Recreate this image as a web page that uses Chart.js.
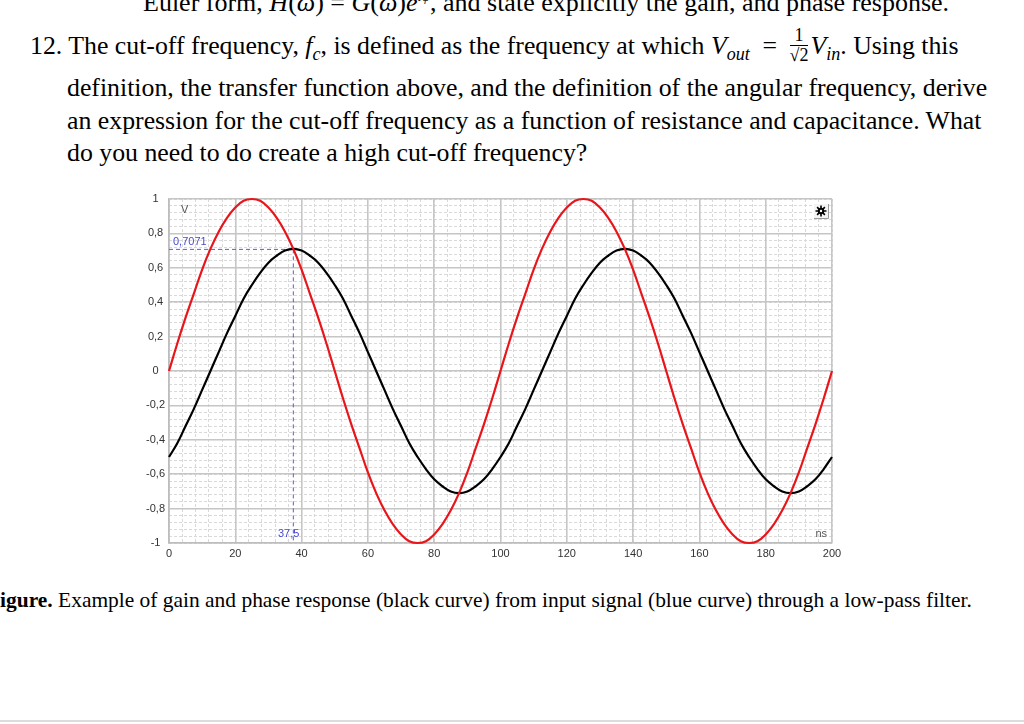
<!DOCTYPE html>
<html>
<head>
<meta charset="utf-8">
<script src="https://cdn.jsdelivr.net/npm/chart.js@4/dist/chart.umd.min.js"></script>
<style>
  body {
    margin: 0;
    width: 1024px;
    height: 724px;
    overflow: hidden;
    background: #fff;
    position: relative;
    font-family: "Liberation Serif", "Times New Roman", serif;
    color: #000;
  }
  .line {
    position: absolute;
    white-space: nowrap;
    font-size: 25.8px;
    line-height: 25.8px;
  }
  .m { font-style: italic; }
  .sub { font-size: 18px; font-style: italic; position: relative; top: 5px; }
  .frac {
    display: inline-block;
    vertical-align: middle;
    text-align: center;
    font-size: 18px;
    line-height: 19px;
    margin: 0 2px 0 6px;
    position: relative;
    top: -3px;
  }
  .frac span { display: block; }
  .frac .num { border-bottom: 1px solid #000; padding: 0 1px; }
  .caption {
    position: absolute;
    white-space: nowrap;
    font-size: 21.45px;
    line-height: 21.45px;
  }
  #wrap {
    position: absolute;
    left: 120px;
    top: 185px;
    width: 730px;
    height: 390px;
  }
  .rule {
    position: absolute;
    left: 0;
    top: 720px;
    width: 1024px;
    height: 2px;
    background: #dcdcdc;
  }
</style>
</head>
<body>

<div class="line" style="left:143px; top:-17px; font-size:26px; line-height:26px;">Euler form, <span class="m">H</span>(<span class="m">ω</span>) = <span class="m">G</span>(<span class="m">ω</span>)<span class="m">e</span><sup class="m" style="font-size:15px">iφ</sup>, and state explicitly the gain, and phase response.</div>

<div class="line" style="left:30px; top:29.4px;">12. The cut-off frequency, <span class="m">f</span><span class="sub">c</span>, is defined as the frequency at which <span class="m">V</span><span class="sub">out</span> &nbsp;= <span class="frac"><span class="num">1</span><span>√2</span></span><span class="m">V</span><span class="sub">in</span>. Using this</div>

<div class="line" style="left:67px; top:75.4px;">definition, the transfer function above, and the definition of the angular frequency, derive</div>

<div class="line" style="left:67px; top:108.4px;">an expression for the cut-off frequency as a function of resistance and capacitance. What</div>

<div class="line" style="left:67px; top:140.4px;">do you need to do create a high cut-off frequency?</div>

<div id="wrap"><canvas id="wave-chart"></canvas></div>

<div class="caption" style="left:-13px; top:589.6px;"><b>Figure.</b> Example of gain and phase response (black curve) from input signal (blue curve) through a low-pass filter.</div>

<div class="rule"></div>

<script>
// time axis, ns
const timeNs = [
  0, 2.5, 5, 7.5, 10, 12.5, 15, 17.5, 20, 22.5,
  25, 27.5, 30, 32.5, 35, 37.5, 40, 42.5, 45, 47.5,
  50, 52.5, 55, 57.5, 60, 62.5, 65, 67.5, 70, 72.5,
  75, 77.5, 80, 82.5, 85, 87.5, 90, 92.5, 95, 97.5,
  100, 102.5, 105, 107.5, 110, 112.5, 115, 117.5, 120, 122.5,
  125, 127.5, 130, 132.5, 135, 137.5, 140, 142.5, 145, 147.5,
  150, 152.5, 155, 157.5, 160, 162.5, 165, 167.5, 170, 172.5,
  175, 177.5, 180, 182.5, 185, 187.5, 190, 192.5, 195, 197.5,
  200
];

// input signal (red), volts
const inputV = [
  0, 0.16, 0.31, 0.45, 0.59, 0.71, 0.81, 0.89, 0.95, 0.99,
  1, 0.99, 0.95, 0.89, 0.81, 0.71, 0.59, 0.45, 0.31, 0.16,
  0, -0.16, -0.31, -0.45, -0.59, -0.71, -0.81, -0.89, -0.95, -0.99,
  -1, -0.99, -0.95, -0.89, -0.81, -0.71, -0.59, -0.45, -0.31, -0.16,
  0, 0.16, 0.31, 0.45, 0.59, 0.71, 0.81, 0.89, 0.95, 0.99,
  1, 0.99, 0.95, 0.89, 0.81, 0.71, 0.59, 0.45, 0.31, 0.16,
  0, -0.16, -0.31, -0.45, -0.59, -0.71, -0.81, -0.89, -0.95, -0.99,
  -1, -0.99, -0.95, -0.89, -0.81, -0.71, -0.59, -0.45, -0.31, -0.16,
  0
];

// filtered output (black), volts
const outputV = [
  -0.5, -0.42, -0.32, -0.22, -0.11, 0, 0.11, 0.22, 0.32, 0.42,
  0.5, 0.57, 0.63, 0.67, 0.7, 0.71, 0.7, 0.67, 0.63, 0.57,
  0.5, 0.42, 0.32, 0.22, 0.11, 0, -0.11, -0.22, -0.32, -0.42,
  -0.5, -0.57, -0.63, -0.67, -0.7, -0.71, -0.7, -0.67, -0.63, -0.57,
  -0.5, -0.42, -0.32, -0.22, -0.11, 0, 0.11, 0.22, 0.32, 0.42,
  0.5, 0.57, 0.63, 0.67, 0.7, 0.71, 0.7, 0.67, 0.63, 0.57,
  0.5, 0.42, 0.32, 0.22, 0.11, 0, -0.11, -0.22, -0.32, -0.42,
  -0.5, -0.57, -0.63, -0.67, -0.7, -0.71, -0.7, -0.67, -0.63, -0.57,
  -0.5
];

// cursor readout
const cursorT = 37.5;
const cursorV = 0.7071;
const cursorLabels = ['0,7071', '37,5'];

const xTicks = [0, 20, 40, 60, 80, 100, 120, 140, 160, 180, 200];
const yTicks = [-1, -0.8, -0.6, -0.4, -0.2, 0, 0.2, 0.4, 0.6, 0.8, 1];

const unitLabels = ['V', 'ns'];

const toComma = v =>
  String(Number(v.toFixed(4))).replace('.', ',');

const pointsOf = values =>
  values.map((v, i) => ({ x: timeNs[i], y: v }));

const tickFont = {
  family: '"Liberation Sans", Arial, sans-serif',
  size: 11,
};

// labels, unit names and the little settings button
const overlayPlugin = {
  id: 'overlay',
  afterDraw(chart) {
    const ctx = chart.ctx;
    const x = chart.scales.x;
    const y = chart.scales.y;
    const area = chart.chartArea;

    ctx.save();
    ctx.font = '11px "Liberation Sans", Arial, sans-serif';

    // cursor values
    ctx.fillStyle = '#4a4ad0';
    ctx.textAlign = 'left';
    ctx.textBaseline = 'bottom';
    ctx.fillText(
      cursorLabels[0],
      area.left + 4,
      y.getPixelForValue(cursorV) - 2
    );
    ctx.textAlign = 'right';
    ctx.textBaseline = 'bottom';
    ctx.fillText(
      cursorLabels[1],
      x.getPixelForValue(cursorT) + 6,
      area.bottom - 4
    );

    // units
    ctx.fillStyle = '#555';
    ctx.textAlign = 'left';
    ctx.textBaseline = 'top';
    ctx.fillText(unitLabels[0], area.left + 12, area.top + 5);
    ctx.textAlign = 'right';
    ctx.textBaseline = 'bottom';
    ctx.fillText(unitLabels[1], area.right - 5, area.bottom - 4);

    // settings button
    const bx = area.right - 18;
    const by = area.top + 5;
    ctx.fillStyle = '#f4f4f4';
    ctx.fillRect(bx, by, 14, 14);
    ctx.strokeStyle = '#9a9a9a';
    ctx.lineWidth = 1;
    ctx.beginPath();
    ctx.moveTo(bx + 14.5, by);
    ctx.lineTo(bx + 14.5, by + 14.5);
    ctx.lineTo(bx, by + 14.5);
    ctx.stroke();

    const cx = bx + 7;
    const cy = by + 7;
    ctx.strokeStyle = '#000';
    ctx.lineWidth = 1.6;
    ctx.beginPath();
    for (let k = 0; k < 8; k++) {
      const a = k * Math.PI / 4;
      ctx.moveTo(cx + Math.cos(a) * 2, cy + Math.sin(a) * 2);
      ctx.lineTo(cx + Math.cos(a) * 5.5, cy + Math.sin(a) * 5.5);
    }
    ctx.stroke();
    ctx.fillStyle = '#000';
    ctx.beginPath();
    ctx.arc(cx, cy, 3.2, 0, Math.PI * 2);
    ctx.fill();
    ctx.fillStyle = '#fff';
    ctx.beginPath();
    ctx.arc(cx, cy, 1.2, 0, Math.PI * 2);
    ctx.fill();

    ctx.restore();
  },
};

new Chart(
  document.getElementById('wave-chart'),
  {
    type: 'line',

    data: {
      datasets: [
        {
          label: 'input',
          data: pointsOf(inputV),
          borderColor: '#e8161b',
          borderWidth: 2.2,
          pointRadius: 0,
          tension: 0.4,
          clip: 6,
        },
        {
          label: 'output',
          data: pointsOf(outputV),
          borderColor: '#000',
          borderWidth: 2.2,
          pointRadius: 0,
          tension: 0.4,
          clip: 6,
        },
        {
          label: 'cursor-h',
          data: [
            { x: 0, y: cursorV },
            { x: cursorT, y: cursorV },
          ],
          borderColor: '#5a5ad8',
          borderWidth: 1,
          borderDash: [4, 3],
          pointRadius: 0,
        },
        {
          label: 'cursor-v',
          data: [
            { x: cursorT, y: cursorV },
            { x: cursorT, y: -1 },
          ],
          borderColor: '#5a5ad8',
          borderWidth: 1,
          borderDash: [4, 3],
          pointRadius: 0,
        },
      ],
    },

    options: {
      responsive: true,
      maintainAspectRatio: false,
      animation: false,

      layout: {
        padding: { top: 14, right: 18, bottom: 10, left: 0 },
      },

      plugins: {
        legend: { display: false },
        tooltip: { enabled: false },
      },

      scales: {

        xMinor: {
          type: 'linear',
          position: 'bottom',
          min: 0,
          max: 200,
          ticks: { display: false, stepSize: 4 },
          grid: {
            color: '#d9d9d9',
            lineWidth: 1,
            drawTicks: false,
            z: -1,
          },
          border: { display: false, dash: [3, 2] },
          afterFit: scale => { scale.height = 0; },
        },

        yMinor: {
          type: 'linear',
          position: 'left',
          min: -1,
          max: 1,
          ticks: { display: false, stepSize: 0.04 },
          grid: {
            color: '#d9d9d9',
            lineWidth: 1,
            drawTicks: false,
            z: -1,
          },
          border: { display: false, dash: [3, 2] },
          afterFit: scale => { scale.width = 0; },
        },

        x: {
          type: 'linear',
          position: 'bottom',
          min: xTicks[0],
          max: xTicks[xTicks.length - 1],
          afterBuildTicks: scale => {
            scale.ticks = xTicks.map(v => ({ value: v }));
          },
          ticks: {
            color: '#333',
            font: tickFont,
            padding: 4,
            maxRotation: 0,
            autoSkip: false,
          },
          grid: {
            color: '#c6c6c6',
            lineWidth: 1.6,
            drawTicks: false,
          },
          border: { color: '#bdbdbd', width: 1.6 },
          afterFit: scale => { scale.height = 22; },
        },

        y: {
          type: 'linear',
          position: 'left',
          min: yTicks[0],
          max: yTicks[yTicks.length - 1],
          afterBuildTicks: scale => {
            scale.ticks = yTicks.map(v => ({ value: v }));
          },
          ticks: {
            color: '#333',
            font: tickFont,
            padding: 4,
            crossAlign: 'center',
            autoSkip: false,
            callback: v => toComma(v),
          },
          grid: {
            color: '#c6c6c6',
            lineWidth: 1.6,
            drawTicks: false,
          },
          border: { color: '#bdbdbd', width: 1.6 },
          afterFit: scale => { scale.width = 49; },
        },

      },
    },

    plugins: [overlayPlugin],
  }
);
</script>
</body>
</html>
